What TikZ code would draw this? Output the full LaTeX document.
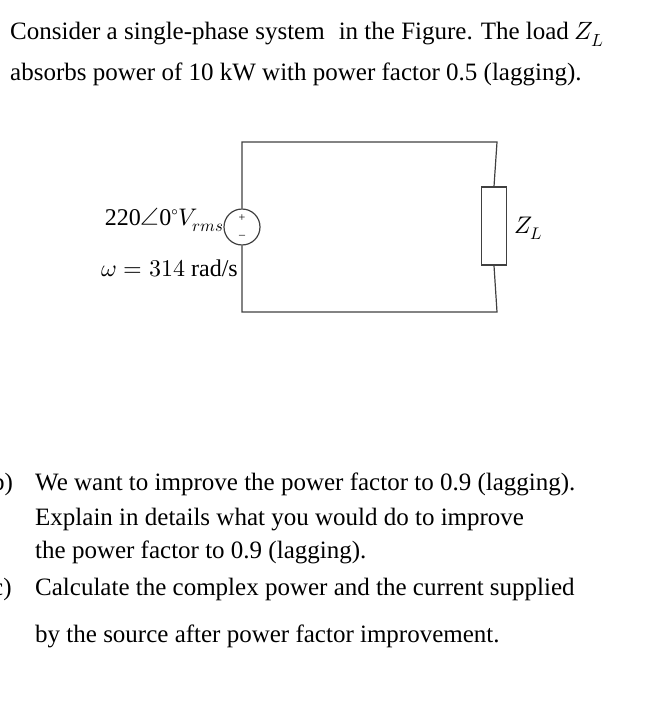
\documentclass[tikz,border=0pt]{standalone}
\usepackage{fontspec}
\setmainfont{Liberation Serif}
\usepackage{unicode-math}
\setmathfont{Latin Modern Math}
\begin{document}
\begin{tikzpicture}[x=1pt,y=-1pt,
  txt/.style={anchor=base west,inner sep=0pt,font=\fontsize{25}{27}\selectfont},
  lbl/.style={inner sep=0pt,font=\fontsize{24}{26}\selectfont},
  wire/.style={line width=1.2pt,draw=black!75}]
\useasboundingbox (0,0) rectangle (660,701);
\clip (0,0) rectangle (660,701);
\node[txt] (t1) at (10,40) {Consider a single-phase system\hspace{14pt}in the Figure.\hspace{8pt}The load\hspace{6pt}$Z_L$};
\node[txt] (t2) at (10,80) {absorbs power of 10 kW with power factor 0.5 (lagging).};
\node[txt] (b0) at (-8,490) {b)};
\node[txt] (b1) at (35,490) {We want to improve the power factor to 0.9 (lagging).};
\node[txt] (b2) at (35,525) {Explain in details what you would do to improve};
\node[txt] (b3) at (35,558) {the power factor to 0.9 (lagging).};
\node[txt] (c0) at (-8,595) {c)};
\node[txt] (c1) at (35,595) {Calculate the complex power and the current supplied};
\node[txt] (c2) at (35,642) {by the source after power factor improvement.};
% circuit
\coordinate (tl) at (242,142);
\coordinate (tr) at (497,142);
\coordinate (bl) at (242,312);
\coordinate (br) at (497,312);
\node[wire,draw,circle,minimum size=36pt,inner sep=0pt] (src) at (242,227) {};
\node[wire,draw,rectangle,minimum width=25pt,minimum height=78pt,inner sep=0pt] (zl) at (494,226) {};
\draw[wire] (src.north) -- (tl) -- (tr) -- (zl.north);
\draw[wire] (src.south) -- (bl) -- (br) -- (zl.south);
\node[font=\fontsize{12}{12}\selectfont,inner sep=0pt] (pl) at (242,218) {+};
\node[font=\fontsize{12}{12}\selectfont,inner sep=0pt] (mi) at (242,237) {--};
\node[lbl,anchor=east] (vs) at (224,220) {220$\angle$0$^{\circ}V_{rms}$};
\node[lbl,anchor=east] (om) at (238,268) {$\omega=314$ rad/s};
\node[lbl,anchor=west] (zn) at (514,228) {$Z_L$};
\end{tikzpicture}
\end{document}
